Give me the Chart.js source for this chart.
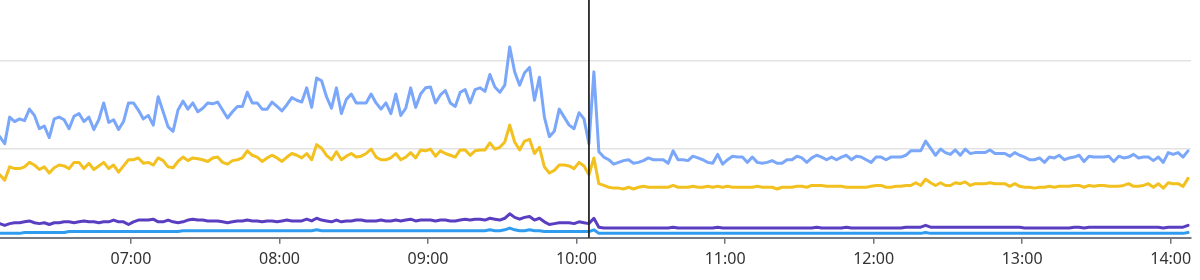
<!DOCTYPE html>
<html>
<head>
<meta charset="utf-8">
<script src="https://cdn.jsdelivr.net/npm/chart.js@4/dist/chart.umd.min.js"></script>
<style>
  html, body { margin: 0; padding: 0; background: #ffffff; }
  #wrap { width: 1200px; height: 280px; }
</style>
</head>
<body>
<div id="wrap"><canvas id="c" width="1200" height="280"></canvas></div>
<script>
// Sampling: one point every 2 minutes starting 06:07 (minutes since midnight)
const START_MINUTE = 367;
const STEP_MINUTES = 2;

// Hour ticks shown on the x axis (minutes since midnight)
const hourTicks = [420, 480, 540, 600, 660, 720, 780, 840];

// Marker (vertical line) time: 10:05
const markerMinute = 605;

// Series values (arbitrary units; gridlines at 100 and 200)
const seriesLightBlue = [
  114,106,136,131,134,132,145,138,123,126,113,134,136,133,123,137,140,131,136,122,133,152,130,133,122,131,152,152,144,134,138,127,159,142,125,120,144,154,145,152,142,
  146,152,151,153,144,135,142,148,148,164,152,152,145,145,153,148,143,150,158,155,153,169,147,180,177,159,146,169,140,156,162,152,152,152,162,152,145,152,140,162,
  138,146,169,147,162,169,170,152,161,166,152,148,164,167,152,167,169,165,184,170,164,172,215,187,172,186,192,155,181,136,114,120,145,136,127,123,141,134,106,187,
  97,91,88,83,85,87,88,84,85,87,90,88,88,88,84,98,88,88,87,92,90,88,85,84,94,83,88,92,91,91,85,91,85,84,85,87,84,84,88,88,92,90,85,90,93,91,88,91,88,91,93,88,92,91,88,85,91,
  91,88,91,91,91,93,98,98,98,109,101,93,100,96,94,99,93,100,95,96,96,96,99,95,95,95,92,96,93,91,88,88,90,85,91,90,93,88,90,91,93,86,92,91,91,91,92,86,92,90,91,94,90,91,91,87,91,85,96,94,96,91,98
];

const seriesYellow = [
  71,65,80,78,78,80,85,82,77,80,73,79,82,81,78,85,85,78,84,77,81,85,78,82,74,81,88,88,90,84,85,82,90,87,80,79,86,91,87,90,89,
  88,86,90,91,85,83,87,88,90,98,93,91,86,90,93,90,86,91,95,93,90,95,88,105,101,93,88,97,88,92,95,91,92,95,100,91,88,88,90,95,
  88,91,96,90,99,98,100,92,98,95,93,91,99,99,93,98,99,99,107,100,102,108,127,108,99,109,111,95,102,80,73,76,82,82,81,78,85,81,71,90,
  61,59,57,56,56,55,57,55,57,58,57,57,57,57,57,59,57,57,57,58,57,57,58,57,58,57,58,57,57,57,57,57,58,57,57,57,55,57,57,57,58,58,57,59,59,59,58,58,58,58,57,57,57,57,57,58,59,
  59,57,57,58,58,59,59,62,59,66,62,59,62,59,59,62,61,63,59,61,61,61,62,61,61,61,58,61,58,57,57,56,57,57,58,57,58,58,58,59,59,57,59,58,59,59,58,58,58,59,61,58,58,59,61,57,61,56,62,61,61,58,67
];

const seriesPurple = [
  16,14,16,17,17,18,19,17,16,17,15,17,17,18,18,17,18,19,18,18,17,18,18,20,18,18,15,18,20,20,20,21,18,18,20,18,17,18,20,21,20,
  20,19,19,19,18,17,18,19,19,20,19,19,18,19,19,18,19,20,19,19,19,21,19,22,20,19,18,20,18,19,19,20,20,19,19,19,20,19,19,20,
  19,20,21,19,20,20,20,19,20,20,19,19,20,21,20,21,21,20,22,21,20,22,27,23,21,23,24,20,22,18,15,16,17,17,17,16,18,17,16,22,
  12,11,11,11,11,11,11,11,11,11,11,11,11,11,11,12,11,11,11,11,11,11,11,11,12,11,11,11,11,11,11,11,11,11,11,11,11,11,11,11,11,11,11,11,12,11,11,11,11,11,12,11,11,11,11,11,11,
  11,11,11,11,11,12,12,12,12,14,12,12,12,12,12,12,12,12,12,12,12,12,12,12,12,12,12,12,12,11,11,11,11,11,11,11,11,11,11,12,12,11,12,12,12,12,12,12,12,12,12,12,12,12,12,12,12,11,12,12,12,12,14
];

const seriesCyan = [
  5,5,5,5,5,6,6,6,6,6,6,6,6,6,7,7,7,7,7,7,7,7,7,7,7,7,7,7,7,7,7,7,7,7,7,7,7,8,8,8,8,
  8,8,8,8,8,8,8,8,8,8,8,8,8,8,8,8,8,8,8,8,8,8,8,9,8,8,8,8,8,8,8,8,8,8,8,8,8,8,8,8,
  8,8,8,8,8,8,8,8,8,8,8,8,8,8,8,8,8,8,9,8,8,9,11,9,8,8,9,8,8,7,7,7,7,7,7,7,7,7,7,9,
  5,5,5,5,5,5,5,5,5,5,5,5,5,5,5,5,5,5,5,5,5,5,5,5,5,5,5,5,5,5,5,5,5,5,5,5,5,5,5,5,5,5,5,5,5,5,5,5,5,5,5,5,5,5,5,5,5,
  5,5,5,5,5,5,5,5,5,6,5,5,5,5,5,5,5,5,5,5,5,5,5,5,5,5,5,5,5,5,5,5,5,5,5,5,5,5,5,5,5,5,5,5,5,5,5,5,5,5,5,5,5,5,5,5,5,5,5,5,5,5,6
];

const times = seriesLightBlue.map((_, i) => START_MINUTE + i * STEP_MINUTES);
const toXY = arr => arr.map((v, i) => ({ x: times[i], y: v }));

const Y_MAX = 268;
const gridValues = [100, 200];

function fmt(m) {
  const h = Math.floor(m / 60), mm = Math.round(m % 60);
  return String(h).padStart(2, '0') + ':' + String(mm).padStart(2, '0');
}

const lineBase = { pointRadius: 0, borderWidth: 3, tension: 0, fill: false, borderJoinStyle: 'round', borderCapStyle: 'round' };

new Chart(document.getElementById('c'), {
  type: 'line',
  data: {
    datasets: [
      { ...lineBase, label: 'marker', data: [{ x: markerMinute, y: 0 }, { x: markerMinute, y: Y_MAX }], borderColor: '#262626', borderWidth: 1.8 },
      { ...lineBase, label: 'A', data: toXY(seriesCyan), borderColor: '#2f9cf0' },
      { ...lineBase, label: 'B', data: toXY(seriesPurple), borderColor: '#5a3ec2' },
      { ...lineBase, label: 'C', data: toXY(seriesYellow), borderColor: '#f2c11f' },
      { ...lineBase, label: 'D', data: toXY(seriesLightBlue), borderColor: '#7aa7fa' }
    ]
  },
  options: {
    responsive: false,
    animation: false,
    layout: { padding: { left: 0, right: 9, top: 0, bottom: 5 } },
    plugins: { legend: { display: false }, tooltip: { enabled: false } },
    scales: {
      x: {
        type: 'linear',
        min: 367.1,
        max: 848.2,
        afterBuildTicks: s => { s.ticks = hourTicks.map(v => ({ value: v })); },
        ticks: {
          callback: v => fmt(v),
          font: { family: 'Noto Sans', size: 16 },
          color: '#333333',
          maxRotation: 0,
          autoSkip: false,
          padding: 6
        },
        grid: { drawOnChartArea: false, drawTicks: true, tickLength: 6, color: '#6f747c', lineWidth: 1.5 },
        border: { color: '#767a82', width: 2 }
      },
      y: {
        min: 0,
        max: Y_MAX,
        afterBuildTicks: s => { s.ticks = gridValues.map(v => ({ value: v })); },
        ticks: { display: false },
        grid: { color: '#e3e3e3', lineWidth: 1.5, drawTicks: false },
        border: { display: false }
      }
    }
  }
});
</script>
</body>
</html>
